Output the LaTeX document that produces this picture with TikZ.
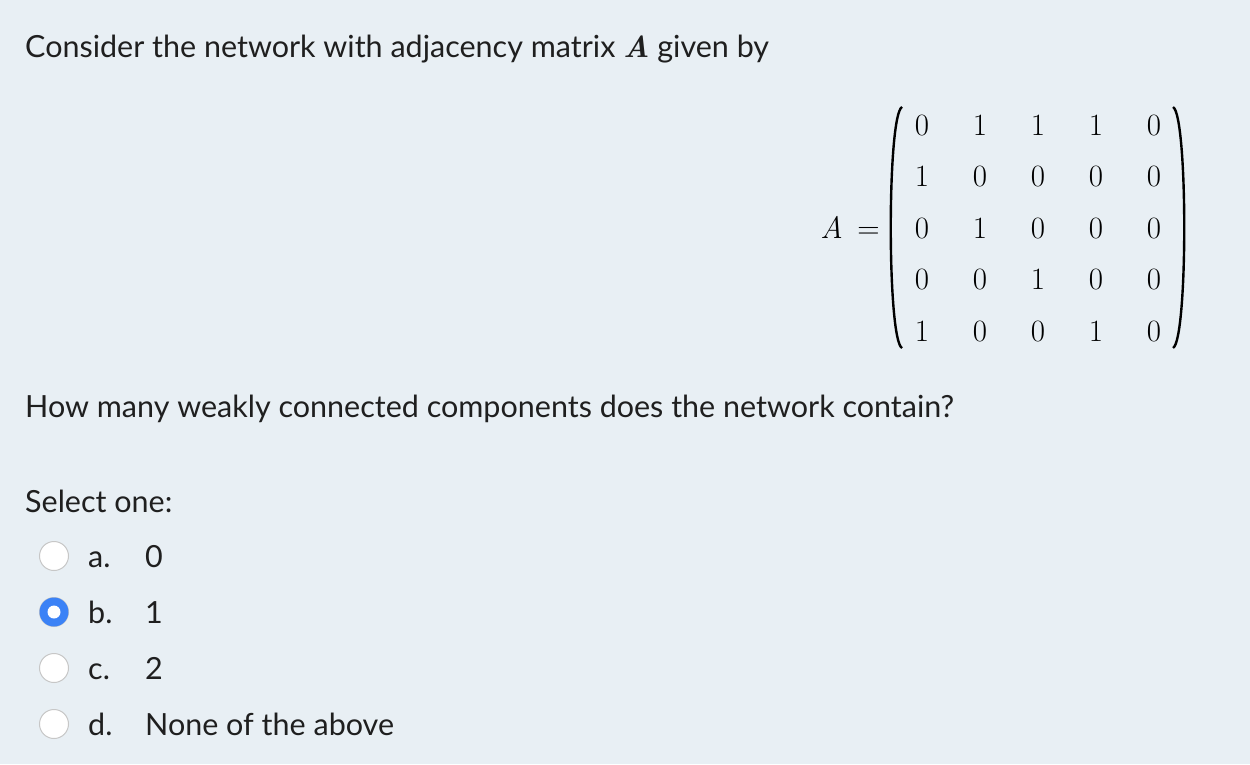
\documentclass[tikz,border=0pt]{standalone}
\usepackage{fontspec}
\setmainfont{Lato}
\newfontfamily\lmrom{Latin Modern Roman}
\begin{document}
\begin{tikzpicture}[x=1pt,y=-1pt,
  txt/.style={anchor=base west,inner sep=0pt,font=\fontsize{30.5}{34}\selectfont,text=black!88},
  ent/.style={anchor=center,inner sep=0pt,font=\fontsize{31}{34}\selectfont\lmrom},
  radio/.style={circle,minimum size=29pt,inner sep=0pt,draw=black!22,fill=white,line width=1pt}]
\fill[fill={rgb,255:red,232;green,239;blue,244}] (0,0) rectangle (1250,764);
\node[txt] (q) at (25,57) {Consider the network with adjacency matrix {\lmrom\bfseries\itshape A} given by};
\node[ent,anchor=base east] (A) at (880,238) {\itshape A\upshape\ \,=};
\foreach \r/\row in {1/{0,1,1,1,0},2/{1,0,0,0,0},3/{0,1,0,0,0},4/{0,0,1,0,0},5/{1,0,0,1,0}}{
  \foreach \v [count=\c] in \row {
    \node[ent] (m\r\c) at ({922+58*(\c-1)},{125+51.5*(\r-1)}) {\v};
  }
}
\draw[line width=2.4pt] (902,107) .. controls (887,115) and (887,340) .. (902,348);
\draw[line width=2.4pt] (1173,107) .. controls (1188,115) and (1188,340) .. (1173,348);
\node[txt] (q2) at (25,417) {How many weakly connected components does the network contain?};
\node[txt] (sel) at (25,512) {Select one:};
\foreach \y/\l/\t [count=\i] in {556/a./0,612/b./1,668/c./2,724/d./None of the above}{
  \node[radio] (r\i) at (54,\y) {};
  \node[txt] (l\i) at (88,\y+11) {\l};
  \node[txt] (t\i) at (145,\y+11) {\t};
}
\node[circle,minimum size=29pt,inner sep=0pt,fill={rgb,255:red,59;green,130;blue,246}] (sel2) at (r2) {};
\node[circle,minimum size=13pt,inner sep=0pt,fill=white] (dot) at (r2) {};
\end{tikzpicture}
\end{document}
